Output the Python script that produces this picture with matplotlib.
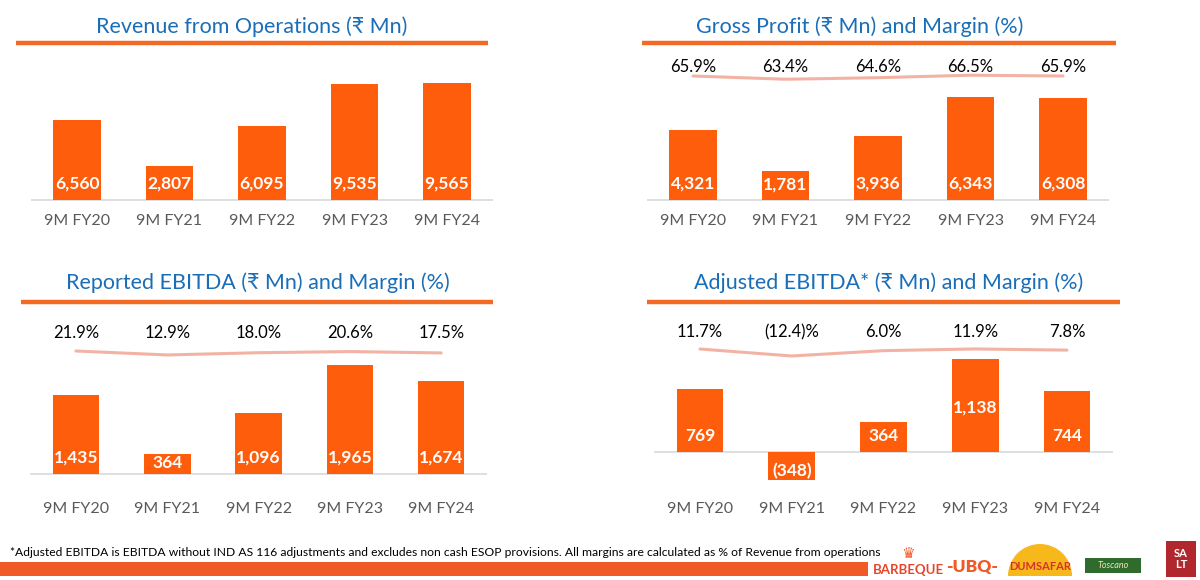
import numpy as np
import matplotlib
matplotlib.use("Agg")
import matplotlib.pyplot as plt
from matplotlib.patches import Rectangle, Wedge

plt.rcParams['font.family'] = ['Lato', 'DejaVu Sans']

# ---------------- data ----------------
periods = ["9M FY20", "9M FY21", "9M FY22", "9M FY23", "9M FY24"]

revenue = [6560, 2807, 6095, 9535, 9565]
gross_profit = [4321, 1781, 3936, 6343, 6308]
gross_margin = [65.9, 63.4, 64.6, 66.5, 65.9]
rep_ebitda = [1435, 364, 1096, 1965, 1674]
rep_margin = [21.9, 12.9, 18.0, 20.6, 17.5]
adj_ebitda = [769, -348, 364, 1138, 744]
adj_margin = [11.7, -12.4, 6.0, 11.9, 7.8]

titles = ["Revenue from Operations (₹ Mn)",
          "Gross Profit (₹ Mn) and Margin (%)",
          "Reported EBITDA (₹ Mn) and Margin (%)",
          "Adjusted EBITDA* (₹ Mn) and Margin (%)"]

footnote = ("*Adjusted EBITDA is EBITDA without IND AS 116 adjustments and excludes non cash "
            "ESOP provisions. All margins are calculated as % of Revenue from operations")

# ---------------- style ----------------
W, H = 1200, 580
BAR = '#FE5D0C'
HEAD = '#F26A24'
BLUE = '#1A6EB8'
PINK = '#F2B3A4'
GRAY = '#595959'

fig = plt.figure(figsize=(W / 100, H / 100), dpi=100)


def px_axes(left, right, top, bottom):
    return fig.add_axes([left / W, 1 - bottom / H, (right - left) / W, (bottom - top) / H])


def fmt(v):
    return f"({abs(v):,})" if v < 0 else f"{v:,}"


def fmt_pct(m):
    return f"({abs(m):.1f})%" if m < 0 else f"{m:.1f}%"


def heading(text, cx, ty, x0, x1, ly):
    fig.text(cx / W, 1 - ty / H, text, ha='center', va='center', fontsize=15.5, color=BLUE)
    fig.add_artist(plt.Line2D([x0 / W, x1 / W], [1 - ly / H, 1 - ly / H],
                              color=HEAD, lw=3.2, solid_capstyle='butt'))


def bar_panel(values, c0, step, base, k, cat_dy, lifts=None):
    left = c0 - step / 2
    right = c0 + 4.5 * step
    top, bottom = base - 140, base + 40
    ax = px_axes(left, right, top, bottom)
    ax.set_xlim(-0.5, 4.5)
    ax.set_ylim(-(bottom - base) / k, (base - top) / k)
    ax.axis('off')
    x = np.arange(len(values))
    ax.bar(x, values, width=0.51, color=BAR, zorder=2)
    ax.axhline(0, color='#D9D9D9', lw=1.2, zorder=1)
    for i, v in enumerate(values):
        h = abs(v) * k
        dy = min(16, h / 2 + 1) if v > 0 else -19
        if lifts and i in lifts:
            dy = lifts[i]
        ax.annotate(fmt(v), (i, 0), xytext=(0, dy), textcoords='offset pixels',
                    ha='center', va='center', color='white', fontsize=12.5,
                    fontweight='bold', zorder=3)
        ax.annotate(periods[i], (i, 0), xytext=(0, -cat_dy), textcoords='offset pixels',
                    ha='center', va='center', color=GRAY, fontsize=11.5)
    return ax


def margin_line(margins, c0, step, anchor, b, label_y):
    left = c0 - step / 2
    right = c0 + 4.5 * step
    ax = px_axes(left, right, anchor - 15, anchor + 15)
    ax.set_xlim(-0.5, 4.5)
    ax.set_ylim(margins[0] - 15 / b, margins[0] + 15 / b)
    ax.axis('off')
    ax.plot(np.arange(len(margins)), margins, color=PINK, lw=2.2,
            solid_capstyle='round', solid_joinstyle='round')
    for i, m in enumerate(margins):
        ax.annotate(fmt_pct(m), (i, margins[0]), xytext=(0, anchor - label_y),
                    textcoords='offset pixels', ha='center', va='center',
                    fontsize=12, color='black')


# top-left: revenue
heading(titles[0], 252, 27, 16, 488, 43)
bar_panel(revenue, 77, 92.5, 200, 0.0122, 21)

# top-right: gross profit
heading(titles[1], 860, 27, 642, 1116, 43)
bar_panel(gross_profit, 693, 92.5, 200, 0.0162, 21)
margin_line(gross_margin, 693, 92.5, 76, 1.3, 67)

# bottom-left: reported EBITDA
heading(titles[2], 258, 283, 21, 493, 302)
bar_panel(rep_ebitda, 76, 91.3, 474, 0.0553, 35)
margin_line(rep_margin, 76, 91.3, 351, 0.44, 333)

# bottom-right: adjusted EBITDA
heading(titles[3], 889, 283, 647, 1120, 302)
bar_panel(adj_ebitda, 700, 91.75, 452, 0.0818, 57, lifts={3: 44})
margin_line(adj_margin, 700, 91.75, 349, 0.29, 332)

# ---------------- footer ----------------
fig.text(10 / W, 1 - 553 / H, footnote, ha='left', va='center', fontsize=8.7, color='black')
fig.add_artist(Rectangle((0, 1 - 576 / H), 868 / W, 14 / H, transform=fig.transFigure,
                         color='#F05A28', lw=0))

# brand marks (rough text stand-ins for the logos)
ax_logo = fig.add_axes([0, 0, 1, 1], zorder=-1)
ax_logo.set_xlim(0, W)
ax_logo.set_ylim(H, 0)
ax_logo.axis('off')
ax_logo.add_patch(Wedge((1040, 576), 32, 180, 360, color='#F7B81B', lw=0))
ax_logo.add_patch(Rectangle((1085, 558), 56, 15, color='#2E6B2C', lw=0))
ax_logo.add_patch(Rectangle((1166, 541), 30, 36, color='#B0282E', lw=0))

fig.text(908 / W, 1 - 570 / H, "BARBEQUE", ha='center', va='center', fontsize=9.5,
         fontweight='bold', color='#E8442B')
fig.text(908 / W, 1 - 553 / H, "♛", ha='center', va='center', fontsize=11,
         color='#F05A28', family=['DejaVu Sans'])
fig.text(972 / W, 1 - 567 / H, "-UBQ-", ha='center', va='center', fontsize=12.5,
         fontweight='heavy', color='#F05A28')
fig.text(1040 / W, 1 - 567 / H, "DUMSAFAR", ha='center', va='center', fontsize=8,
         fontweight='bold', color='#D6322B')
fig.text(1113 / W, 1 - 565.5 / H, "Toscano", ha='center', va='center', fontsize=6.5,
         style='italic', color='#F3E7B3')
fig.text(1181 / W, 1 - 559 / H, "SA\nLT", ha='center', va='center', fontsize=8,
         fontweight='bold', color='white', linespacing=0.9)

fig.savefig("out.png", dpi=100)
